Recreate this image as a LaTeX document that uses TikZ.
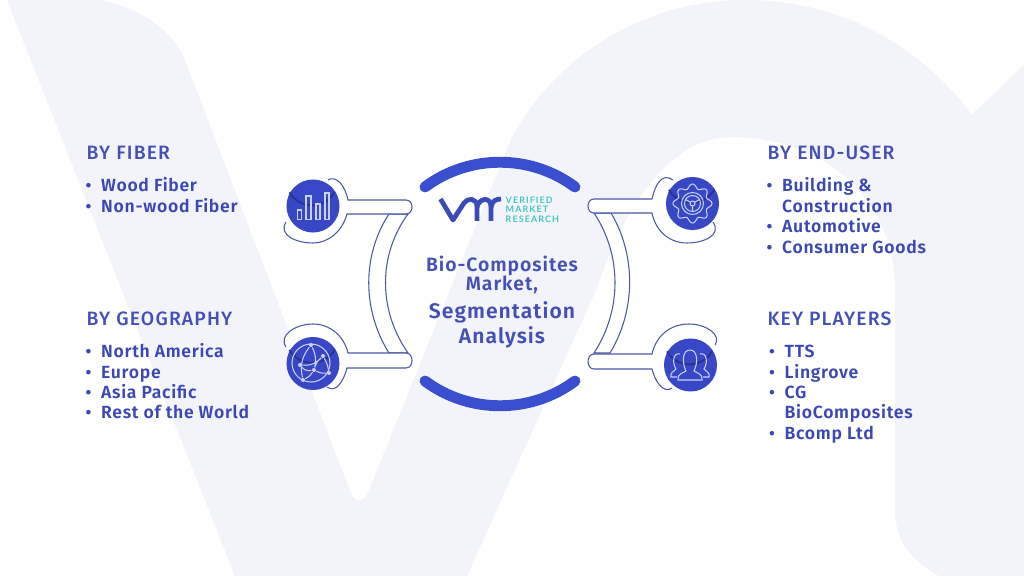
\documentclass[tikz,border=0pt]{standalone}
\usepackage{fontspec}
\setmainfont{Fira Sans}
\newfontfamily\headfont[LetterSpace=6]{Fira Sans Medium}
\newfontfamily\itemfont[LetterSpace=4]{Fira Sans SemiBold}
\newfontfamily\midfont[LetterSpace=5]{Fira Sans SemiBold}
\newfontfamily\logofont[LetterSpace=12]{Lato Bold}
\usepackage{tikz}
\usetikzlibrary{positioning, calc}
\definecolor{palebg}{HTML}{F2F4FA}
\definecolor{headblue}{HTML}{4450B5}
\definecolor{itemblue}{HTML}{3B48B4}
\definecolor{arcblue}{HTML}{3A4ED0}
\definecolor{lineblue}{HTML}{4C57A5}
\definecolor{iconline}{HTML}{C9CFF2}
\definecolor{logoteal}{HTML}{45C6C2}
\definecolor{logoblue}{HTML}{3A4BB8}
\definecolor{circblue}{HTML}{3747C5}
\definecolor{circdark}{HTML}{27328E}
\tikzset{
  headtext/.style={anchor=base west, inner sep=0pt, text=headblue, font=\headfont\fontsize{5.5}{6}\selectfont},
  itemtext/.style={anchor=base west, inner sep=0pt, text=itemblue, font=\itemfont\fontsize{5}{6}\selectfont},
  bullettext/.style={anchor=base, inner sep=0pt, text=itemblue, font=\itemfont\fontsize{4.85}{6}\selectfont},
  midtext/.style={anchor=base, inner sep=0pt, text=headblue, font=\midfont\fontsize{5.5}{6}\selectfont},
  midbig/.style={anchor=base, inner sep=0pt, text=headblue, font=\midfont\fontsize{6}{7}\selectfont},
  logotext/.style={anchor=base west, inner sep=0pt, text=logoteal, font=\logofont\fontsize{2.55}{3}\selectfont},
  holder/.style={draw=lineblue, line width=0.3pt, fill=white},
  sidearc/.style={draw=arcblue, line width=3.1pt, line cap=round},
  iconcirc/.style={circle, fill=circblue, minimum size=0.53cm, inner sep=0pt},
  iconpath/.style={draw=iconline, line width=0.3pt},
  globedot/.style={circle, fill=iconline, minimum size=0.04cm, inner sep=0pt}
}
\begin{document}
\begin{tikzpicture}[x=0.01cm,y=-0.01cm]
\useasboundingbox (0,0) rectangle (1024,576);
\fill[white] (0,0) rectangle (1024,576);
\fill[palebg] (7,0) -- (100,0) .. controls (140,8) and (168,28) .. (183,55)
  -- (350,491) .. controls (354,503) and (362,503) .. (367,495)
  -- (512,137) .. controls (560,50) and (650,0) .. (745,0)
  .. controls (840,0) and (920,45) .. (972,115) -- (1024,65) -- (1024,576) -- (939,576)
  .. controls (910,560) and (895,540) .. (895,510) -- (895,288)
  .. controls (895,200) and (825,137) .. (732,137)
  .. controls (670,137) and (625,205) .. (597,288)
  -- (467,576) -- (235,576) -- cycle;

\draw[holder] (389,214) .. controls (362,255) and (362,310) .. (389,353) -- (408,353)
  .. controls (378,310) and (378,255) .. (408,214) -- cycle;
\draw[holder] (594,213) .. controls (622,255) and (622,310) .. (594,353) -- (610,353)
  .. controls (636,310) and (636,255) .. (611,213) -- cycle;

\draw[holder] (328,180) .. controls (336,175) and (345,185) .. (348,200) -- (406,200)
  .. controls (414,200) and (414,214) .. (406,214) -- (347,214)
  .. controls (342,232) and (328,243) .. (313,243)
  .. controls (296,243) and (278,235) .. (286,222);
\draw[holder] (286,347) .. controls (278,335) and (296,324) .. (313,324)
  .. controls (330,324) and (344,336) .. (348,353) -- (406,353)
  .. controls (414,353) and (414,368) .. (406,368) -- (347,368)
  .. controls (344,380) and (336,394) .. (327,387);
\draw[holder] (673,180) .. controls (662,172) and (655,185) .. (652,199) -- (594,199)
  .. controls (586,199) and (586,213) .. (594,213) -- (652,213)
  .. controls (656,232) and (670,243) .. (687,243)
  .. controls (704,243) and (722,235) .. (713,222);
\draw[holder] (715,345) .. controls (722,335) and (706,324) .. (689,324)
  .. controls (670,324) and (656,336) .. (652,354) -- (594,354)
  .. controls (586,354) and (586,369) .. (594,369) -- (652,369)
  .. controls (655,382) and (664,394) .. (672,388);

\draw[sidearc] (425,187) .. controls (469,154) and (531,154) .. (575,187);
\draw[sidearc] (425,381) .. controls (469,414) and (531,414) .. (575,381);

\draw[logoblue, line width=1.35pt, line join=round] (440.5,199) -- (453,220) -- (464,203)
  .. controls (467,198) and (477,197) .. (477,207) -- (477,221);
\draw[logoblue, line width=1.35pt] (477,207) .. controls (479,198) and (491,196) .. (491,207) -- (491,221);
\draw[logoblue, line width=1.35pt] (491,207) .. controls (492,201) and (496,199) .. (501,199);
\node[logotext] (logoa) at (505,204) {VERIFIED};
\node[logotext] (logob) at (505,213) {MARKET};
\node[logotext] (logoc) at (505,222.5) {RESEARCH};

\node[midtext] (mida) at (502,271.5) {Bio-Composites};
\node[midtext] (midb) at (502,291) {Market,};
\node[midbig] (midc) at (502,318) {Segmentation};
\node[midbig] (midd) at (502,343.5) {Analysis};

\node[iconcirc] (fibercirc) at (313,206) {};
\node[iconcirc] (geocirc) at (313,363.5) {};
\node[iconcirc] (usercirc) at (692.5,203.5) {};
\node[iconcirc] (playercirc) at (690.5,365) {};
\foreach \c in {fibercirc,geocirc,usercirc,playercirc} {
  \draw[circdark, line width=0.5pt] (\c.150) arc[start angle=150,end angle=30,radius=26];
}

\foreach \xa/\xb/\t in {297.5/301.5/210, 306/311/196, 316/320/204, 325/329/193} {
  \draw[iconpath] (\xa,\t) rectangle (\xb,219.5);
}

\draw[iconpath] (311,363) circle (19);
\node[globedot] (gloa) at (323,356) {};
\node[globedot] (glob) at (314,370) {};
\node[globedot] (gloc) at (300,365) {};
\node[globedot] (glod) at (311,345) {};
\node[globedot] (gloe) at (329,373) {};
\node[globedot] (glof) at (303,380) {};
\draw[iconpath] (glod) to[bend left=20] (glob) (glob) to[bend right=15] (gloe)
  (gloc) to[bend right=25] (gloa) (gloa) to[bend right=15] (glob) (glob) to[bend left=15] (glof)
  (gloc) to[bend right=30] (glob) (glod) to[bend right=25] (glof) (gloa) to[bend left=10] (gloe);

\begin{scope}[shift={(692.5,203.5)}]
\draw[iconpath] plot[smooth cycle, samples=65, domain=0:354.375] (\x:{17.3+2.3*cos(8*\x)});
\draw[iconpath] (0,0) circle (11);
\draw[iconpath] (0,0) circle (8);
\draw[iconpath] (0,0) -- (0,8) (0,0) -- (-7,-4) (0,0) -- (7,-4);
\draw[iconpath, fill=circblue] (0,0) circle (2.5);
\end{scope}

\begin{scope}[shift={(690,365)}]
\draw[iconpath] (-12,15) .. controls (-13,9) and (-7,8) .. (-4,6)
  .. controls (-8,-2) and (-8,-15) .. (0,-15) .. controls (8,-15) and (8,-2) .. (4,6)
  .. controls (7,8) and (13,9) .. (12,15) -- cycle;
\draw[iconpath] (-10,-11) .. controls (-17,-13) and (-18,-2) .. (-14,4)
  .. controls (-17,7) and (-20,8) .. (-19,12) -- (-13,12);
\draw[iconpath] (10,-11) .. controls (17,-13) and (18,-2) .. (14,4)
  .. controls (17,7) and (20,8) .. (19,12) -- (13,12);
\end{scope}

\node[headtext] (fiberhead) at (86,159.5) {BY FIBER};
\node[headtext] (geohead) at (86,325) {BY GEOGRAPHY};
\node[headtext] (userhead) at (767,159.5) {BY END-USER};
\node[headtext] (playerhead) at (767,325) {KEY PLAYERS};

\foreach \n/\t/\y in {wood/Wood Fiber/192, nonwood/Non-wood Fiber/213,
  north/North America/357, europe/Europe/378, asia/Asia Pacific/398, rest/Rest of the World/418.5} {
\node[bullettext] (\n dot) at (88.5,\y) {•};
\node[itemtext] (\n) at (100.5,\y) {\t};
}
\foreach \n/\t/\y in {build/Building \&/192, auto/Automotive/233, consumer/Consumer Goods/253.5} {
\node[bullettext] (\n dot) at (769.5,\y) {•};
\node[itemtext] (\n) at (781.5,\y) {\t};
}
\node[itemtext] (constr) at (781.5,213) {Construction};
\foreach \n/\t/\y in {tts/TTS/357, lingrove/Lingrove/378, cg/CG/398, bcomp/Bcomp Ltd/439.5} {
\node[bullettext] (\n dot) at (772,\y) {•};
\node[itemtext] (\n) at (784,\y) {\t};
}
\node[itemtext] (biocomp) at (784,418.5) {BioComposites};
\end{tikzpicture}
\end{document}
